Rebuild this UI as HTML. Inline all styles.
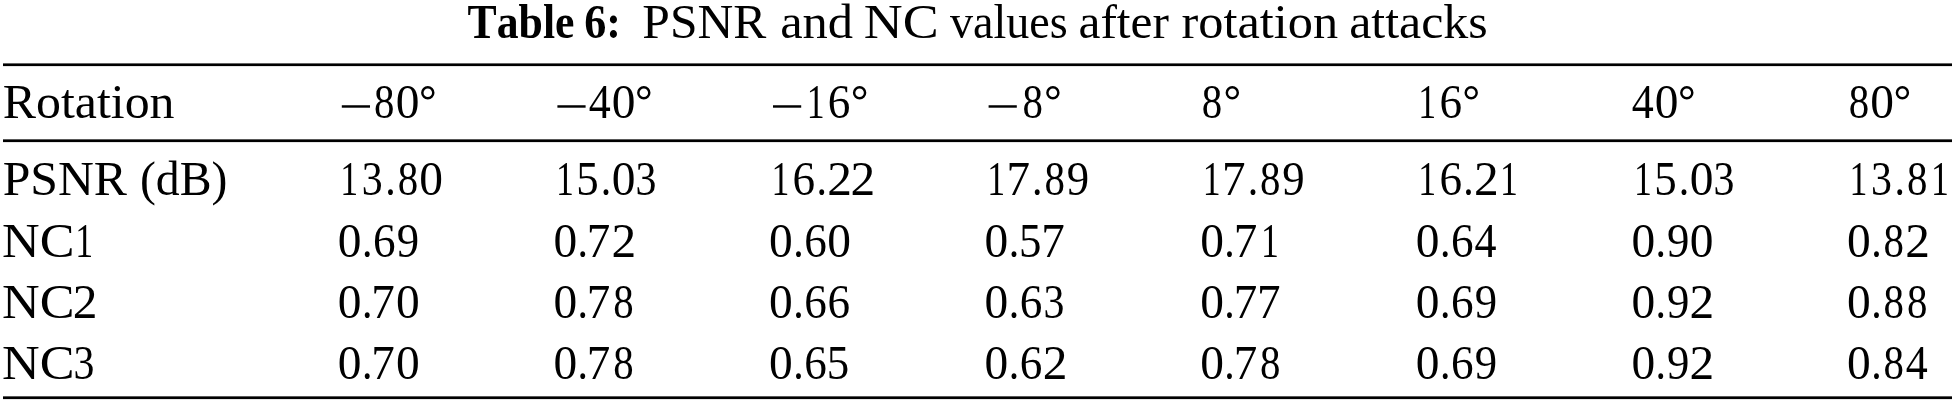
<!DOCTYPE html>
<html><head><meta charset="utf-8"><style>
html,body{margin:0;padding:0;background:#fff;width:1954px;height:404px;overflow:hidden}
svg{display:block;filter:grayscale(1)}
text{font-family:"Liberation Serif",serif;font-size:47.2px;fill:#000;font-kerning:none;font-variant-ligatures:none}
</style></head><body>
<svg width="1954" height="404" viewBox="0 0 1954 404">
<rect x="3" y="63.4" width="1949" height="2.7"/>
<rect x="3" y="139.35" width="1949" height="2.75"/>
<rect x="3" y="396.35" width="1949" height="2.75"/>
<text transform="translate(467.62 37.7) scale(0.9256 1.025)" font-size="47.2" font-weight="bold">Table</text>
<text transform="translate(584.19 37.7) scale(0.9347 1.025)" font-size="47.2" font-weight="bold">6:</text>
<text transform="translate(642.37 37.7) scale(1.0494 1.025)" font-size="47.2" font-weight="normal">PSNR</text>
<text transform="translate(780.13 37.7) scale(1.0696 1.025)" font-size="47.2" font-weight="normal">and</text>
<text transform="translate(863.85 37.7) scale(1.1428 1.025)" font-size="47.2" font-weight="normal">NC</text>
<text transform="translate(949.90 37.7) scale(0.9775 1.025)" font-size="47.2" font-weight="normal">values</text>
<text transform="translate(1078.46 37.7) scale(1.0465 1.025)" font-size="47.2" font-weight="normal">after</text>
<text transform="translate(1181.59 37.7) scale(1.0665 1.025)" font-size="47.2" font-weight="normal">rotation</text>
<text transform="translate(1349.14 37.7) scale(1.0581 1.025)" font-size="47.2" font-weight="normal">attacks</text>
<text transform="translate(2.76 117.6) scale(1.0567 1.025)" font-size="47.2" font-weight="normal">Rotation</text>
<rect x="341.80" y="105.25" width="28.2" height="2.45"/>
<text transform="translate(384.27 117.6) scale(0.8654 1.025)" x="-11.80">8</text>
<text transform="translate(407.55 117.6) scale(1.0055 1.025)" x="-11.80">0</text>
<circle cx="427.80" cy="92.75" r="5.48" fill="none" stroke="#000" stroke-width="2.45"/>
<rect x="557.40" y="105.25" width="28.2" height="2.45"/>
<text transform="translate(599.88 117.6) scale(0.9330 1.025)" x="-11.89">4</text>
<text transform="translate(623.55 117.6) scale(1.0055 1.025)" x="-11.80">0</text>
<circle cx="643.80" cy="92.75" r="5.48" fill="none" stroke="#000" stroke-width="2.45"/>
<rect x="773.00" y="105.25" width="28.2" height="2.45"/>
<text transform="translate(816.17 117.6) scale(0.7579 1.025)" x="-12.46">1</text>
<text transform="translate(839.40 117.6) scale(0.9578 1.025)" x="-12.11">6</text>
<circle cx="859.60" cy="92.75" r="5.48" fill="none" stroke="#000" stroke-width="2.45"/>
<rect x="988.60" y="105.25" width="28.2" height="2.45"/>
<text transform="translate(1032.67 117.6) scale(0.8654 1.025)" x="-11.80">8</text>
<circle cx="1052.90" cy="92.75" r="5.48" fill="none" stroke="#000" stroke-width="2.45"/>
<text transform="translate(1212.07 117.6) scale(0.8654 1.025)" x="-11.80">8</text>
<circle cx="1232.30" cy="92.75" r="5.48" fill="none" stroke="#000" stroke-width="2.45"/>
<text transform="translate(1427.77 117.6) scale(0.7579 1.025)" x="-12.46">1</text>
<text transform="translate(1451.00 117.6) scale(0.9578 1.025)" x="-12.11">6</text>
<circle cx="1471.20" cy="92.75" r="5.48" fill="none" stroke="#000" stroke-width="2.45"/>
<text transform="translate(1642.88 117.6) scale(0.9330 1.025)" x="-11.89">4</text>
<text transform="translate(1666.55 117.6) scale(1.0055 1.025)" x="-11.80">0</text>
<circle cx="1686.80" cy="92.75" r="5.48" fill="none" stroke="#000" stroke-width="2.45"/>
<text transform="translate(1858.87 117.6) scale(0.8654 1.025)" x="-11.80">8</text>
<text transform="translate(1882.15 117.6) scale(1.0055 1.025)" x="-11.80">0</text>
<circle cx="1902.40" cy="92.75" r="5.48" fill="none" stroke="#000" stroke-width="2.45"/>
<text transform="translate(2.67 194.6) scale(1.0528 1.025)" font-size="47.2" font-weight="normal">PSNR</text>
<text transform="translate(139.90 194.6) scale(1.0113 1.025)" font-size="47.2" font-weight="normal">(dB)</text>
<text transform="translate(349.77 194.6) scale(0.7579 1.025)" x="-12.46">1</text>
<text transform="translate(372.34 194.6) scale(0.8856 1.025)" x="-12.01">3</text>
<text transform="translate(390.45 194.6) scale(0.8857 1.025)" x="-5.90">.</text>
<text transform="translate(407.92 194.6) scale(0.8654 1.025)" x="-11.80">8</text>
<text transform="translate(431.20 194.6) scale(1.0055 1.025)" x="-11.80">0</text>
<text transform="translate(565.37 194.6) scale(0.7579 1.025)" x="-12.46">1</text>
<text transform="translate(587.85 194.6) scale(0.9503 1.025)" x="-12.25">5</text>
<text transform="translate(606.05 194.6) scale(0.8857 1.025)" x="-5.90">.</text>
<text transform="translate(623.50 194.6) scale(1.0055 1.025)" x="-11.80">0</text>
<text transform="translate(646.19 194.6) scale(0.8856 1.025)" x="-12.01">3</text>
<text transform="translate(780.97 194.6) scale(0.7579 1.025)" x="-12.46">1</text>
<text transform="translate(804.20 194.6) scale(0.9578 1.025)" x="-12.11">6</text>
<text transform="translate(821.65 194.6) scale(0.8857 1.025)" x="-5.90">.</text>
<text transform="translate(839.22 194.6) scale(1.0466 1.025)" x="-11.53">2</text>
<text transform="translate(862.52 194.6) scale(1.0466 1.025)" x="-11.53">2</text>
<text transform="translate(996.57 194.6) scale(0.7579 1.025)" x="-12.46">1</text>
<text transform="translate(1019.03 194.6) scale(0.9981 1.025)" x="-12.68">7</text>
<text transform="translate(1037.25 194.6) scale(0.8857 1.025)" x="-5.90">.</text>
<text transform="translate(1054.72 194.6) scale(0.8654 1.025)" x="-11.80">8</text>
<text transform="translate(1077.74 194.6) scale(0.9478 1.025)" x="-11.59">9</text>
<text transform="translate(1212.17 194.6) scale(0.7579 1.025)" x="-12.46">1</text>
<text transform="translate(1234.63 194.6) scale(0.9981 1.025)" x="-12.68">7</text>
<text transform="translate(1252.85 194.6) scale(0.8857 1.025)" x="-5.90">.</text>
<text transform="translate(1270.32 194.6) scale(0.8654 1.025)" x="-11.80">8</text>
<text transform="translate(1293.34 194.6) scale(0.9478 1.025)" x="-11.59">9</text>
<text transform="translate(1427.77 194.6) scale(0.7579 1.025)" x="-12.46">1</text>
<text transform="translate(1451.00 194.6) scale(0.9578 1.025)" x="-12.11">6</text>
<text transform="translate(1468.45 194.6) scale(0.8857 1.025)" x="-5.90">.</text>
<text transform="translate(1486.02 194.6) scale(1.0466 1.025)" x="-11.53">2</text>
<text transform="translate(1509.32 194.6) scale(0.7579 1.025)" x="-12.46">1</text>
<text transform="translate(1643.37 194.6) scale(0.7579 1.025)" x="-12.46">1</text>
<text transform="translate(1665.85 194.6) scale(0.9503 1.025)" x="-12.25">5</text>
<text transform="translate(1684.05 194.6) scale(0.8857 1.025)" x="-5.90">.</text>
<text transform="translate(1701.50 194.6) scale(1.0055 1.025)" x="-11.80">0</text>
<text transform="translate(1724.19 194.6) scale(0.8856 1.025)" x="-12.01">3</text>
<text transform="translate(1858.97 194.6) scale(0.7579 1.025)" x="-12.46">1</text>
<text transform="translate(1881.54 194.6) scale(0.8856 1.025)" x="-12.01">3</text>
<text transform="translate(1899.65 194.6) scale(0.8857 1.025)" x="-5.90">.</text>
<text transform="translate(1917.12 194.6) scale(0.8654 1.025)" x="-11.80">8</text>
<text transform="translate(1940.52 194.6) scale(0.7579 1.025)" x="-12.46">1</text>
<text transform="translate(2.10 256.6) scale(1.1054 1.025)" font-size="47.2" font-weight="normal">NC</text>
<text transform="translate(84.77 256.6) scale(0.7579 1.025)" x="-12.46">1</text>
<text transform="translate(349.65 256.6) scale(1.0055 1.025)" x="-11.80">0</text>
<text transform="translate(367.15 256.6) scale(0.8857 1.025)" x="-5.90">.</text>
<text transform="translate(384.65 256.6) scale(0.9578 1.025)" x="-12.11">6</text>
<text transform="translate(407.64 256.6) scale(0.9478 1.025)" x="-11.59">9</text>
<text transform="translate(565.25 256.6) scale(1.0055 1.025)" x="-11.80">0</text>
<text transform="translate(582.75 256.6) scale(0.8857 1.025)" x="-5.90">.</text>
<text transform="translate(599.48 256.6) scale(0.9981 1.025)" x="-12.68">7</text>
<text transform="translate(623.62 256.6) scale(1.0466 1.025)" x="-11.53">2</text>
<text transform="translate(780.85 256.6) scale(1.0055 1.025)" x="-11.80">0</text>
<text transform="translate(798.35 256.6) scale(0.8857 1.025)" x="-5.90">.</text>
<text transform="translate(815.85 256.6) scale(0.9578 1.025)" x="-12.11">6</text>
<text transform="translate(839.10 256.6) scale(1.0055 1.025)" x="-11.80">0</text>
<text transform="translate(996.45 256.6) scale(1.0055 1.025)" x="-11.80">0</text>
<text transform="translate(1013.95 256.6) scale(0.8857 1.025)" x="-5.90">.</text>
<text transform="translate(1030.70 256.6) scale(0.9503 1.025)" x="-12.25">5</text>
<text transform="translate(1053.98 256.6) scale(0.9981 1.025)" x="-12.68">7</text>
<text transform="translate(1212.05 256.6) scale(1.0055 1.025)" x="-11.80">0</text>
<text transform="translate(1229.55 256.6) scale(0.8857 1.025)" x="-5.90">.</text>
<text transform="translate(1246.28 256.6) scale(0.9981 1.025)" x="-12.68">7</text>
<text transform="translate(1270.42 256.6) scale(0.7579 1.025)" x="-12.46">1</text>
<text transform="translate(1427.65 256.6) scale(1.0055 1.025)" x="-11.80">0</text>
<text transform="translate(1445.15 256.6) scale(0.8857 1.025)" x="-5.90">.</text>
<text transform="translate(1462.65 256.6) scale(0.9578 1.025)" x="-12.11">6</text>
<text transform="translate(1485.53 256.6) scale(0.9330 1.025)" x="-11.89">4</text>
<text transform="translate(1643.25 256.6) scale(1.0055 1.025)" x="-11.80">0</text>
<text transform="translate(1660.75 256.6) scale(0.8857 1.025)" x="-5.90">.</text>
<text transform="translate(1677.94 256.6) scale(0.9478 1.025)" x="-11.59">9</text>
<text transform="translate(1701.50 256.6) scale(1.0055 1.025)" x="-11.80">0</text>
<text transform="translate(1858.85 256.6) scale(1.0055 1.025)" x="-11.80">0</text>
<text transform="translate(1876.35 256.6) scale(0.8857 1.025)" x="-5.90">.</text>
<text transform="translate(1893.82 256.6) scale(0.8654 1.025)" x="-11.80">8</text>
<text transform="translate(1917.22 256.6) scale(1.0466 1.025)" x="-11.53">2</text>
<text transform="translate(2.10 317.8) scale(1.1054 1.025)" font-size="47.2" font-weight="normal">NC</text>
<text transform="translate(84.77 317.8) scale(1.0466 1.025)" x="-11.53">2</text>
<text transform="translate(349.65 317.8) scale(1.0055 1.025)" x="-11.80">0</text>
<text transform="translate(367.15 317.8) scale(0.8857 1.025)" x="-5.90">.</text>
<text transform="translate(383.88 317.8) scale(0.9981 1.025)" x="-12.68">7</text>
<text transform="translate(407.90 317.8) scale(1.0055 1.025)" x="-11.80">0</text>
<text transform="translate(565.25 317.8) scale(1.0055 1.025)" x="-11.80">0</text>
<text transform="translate(582.75 317.8) scale(0.8857 1.025)" x="-5.90">.</text>
<text transform="translate(599.48 317.8) scale(0.9981 1.025)" x="-12.68">7</text>
<text transform="translate(623.52 317.8) scale(0.8654 1.025)" x="-11.80">8</text>
<text transform="translate(780.85 317.8) scale(1.0055 1.025)" x="-11.80">0</text>
<text transform="translate(798.35 317.8) scale(0.8857 1.025)" x="-5.90">.</text>
<text transform="translate(815.85 317.8) scale(0.9578 1.025)" x="-12.11">6</text>
<text transform="translate(839.15 317.8) scale(0.9578 1.025)" x="-12.11">6</text>
<text transform="translate(996.45 317.8) scale(1.0055 1.025)" x="-11.80">0</text>
<text transform="translate(1013.95 317.8) scale(0.8857 1.025)" x="-5.90">.</text>
<text transform="translate(1031.45 317.8) scale(0.9578 1.025)" x="-12.11">6</text>
<text transform="translate(1054.09 317.8) scale(0.8856 1.025)" x="-12.01">3</text>
<text transform="translate(1212.05 317.8) scale(1.0055 1.025)" x="-11.80">0</text>
<text transform="translate(1229.55 317.8) scale(0.8857 1.025)" x="-5.90">.</text>
<text transform="translate(1246.28 317.8) scale(0.9981 1.025)" x="-12.68">7</text>
<text transform="translate(1269.58 317.8) scale(0.9981 1.025)" x="-12.68">7</text>
<text transform="translate(1427.65 317.8) scale(1.0055 1.025)" x="-11.80">0</text>
<text transform="translate(1445.15 317.8) scale(0.8857 1.025)" x="-5.90">.</text>
<text transform="translate(1462.65 317.8) scale(0.9578 1.025)" x="-12.11">6</text>
<text transform="translate(1485.64 317.8) scale(0.9478 1.025)" x="-11.59">9</text>
<text transform="translate(1643.25 317.8) scale(1.0055 1.025)" x="-11.80">0</text>
<text transform="translate(1660.75 317.8) scale(0.8857 1.025)" x="-5.90">.</text>
<text transform="translate(1677.94 317.8) scale(0.9478 1.025)" x="-11.59">9</text>
<text transform="translate(1701.62 317.8) scale(1.0466 1.025)" x="-11.53">2</text>
<text transform="translate(1858.85 317.8) scale(1.0055 1.025)" x="-11.80">0</text>
<text transform="translate(1876.35 317.8) scale(0.8857 1.025)" x="-5.90">.</text>
<text transform="translate(1893.82 317.8) scale(0.8654 1.025)" x="-11.80">8</text>
<text transform="translate(1917.12 317.8) scale(0.8654 1.025)" x="-11.80">8</text>
<text transform="translate(2.10 378.5) scale(1.1054 1.025)" font-size="47.2" font-weight="normal">NC</text>
<text transform="translate(84.04 378.5) scale(0.8856 1.025)" x="-12.01">3</text>
<text transform="translate(349.65 378.5) scale(1.0055 1.025)" x="-11.80">0</text>
<text transform="translate(367.15 378.5) scale(0.8857 1.025)" x="-5.90">.</text>
<text transform="translate(383.88 378.5) scale(0.9981 1.025)" x="-12.68">7</text>
<text transform="translate(407.90 378.5) scale(1.0055 1.025)" x="-11.80">0</text>
<text transform="translate(565.25 378.5) scale(1.0055 1.025)" x="-11.80">0</text>
<text transform="translate(582.75 378.5) scale(0.8857 1.025)" x="-5.90">.</text>
<text transform="translate(599.48 378.5) scale(0.9981 1.025)" x="-12.68">7</text>
<text transform="translate(623.52 378.5) scale(0.8654 1.025)" x="-11.80">8</text>
<text transform="translate(780.85 378.5) scale(1.0055 1.025)" x="-11.80">0</text>
<text transform="translate(798.35 378.5) scale(0.8857 1.025)" x="-5.90">.</text>
<text transform="translate(815.85 378.5) scale(0.9578 1.025)" x="-12.11">6</text>
<text transform="translate(838.40 378.5) scale(0.9503 1.025)" x="-12.25">5</text>
<text transform="translate(996.45 378.5) scale(1.0055 1.025)" x="-11.80">0</text>
<text transform="translate(1013.95 378.5) scale(0.8857 1.025)" x="-5.90">.</text>
<text transform="translate(1031.45 378.5) scale(0.9578 1.025)" x="-12.11">6</text>
<text transform="translate(1054.82 378.5) scale(1.0466 1.025)" x="-11.53">2</text>
<text transform="translate(1212.05 378.5) scale(1.0055 1.025)" x="-11.80">0</text>
<text transform="translate(1229.55 378.5) scale(0.8857 1.025)" x="-5.90">.</text>
<text transform="translate(1246.28 378.5) scale(0.9981 1.025)" x="-12.68">7</text>
<text transform="translate(1270.32 378.5) scale(0.8654 1.025)" x="-11.80">8</text>
<text transform="translate(1427.65 378.5) scale(1.0055 1.025)" x="-11.80">0</text>
<text transform="translate(1445.15 378.5) scale(0.8857 1.025)" x="-5.90">.</text>
<text transform="translate(1462.65 378.5) scale(0.9578 1.025)" x="-12.11">6</text>
<text transform="translate(1485.64 378.5) scale(0.9478 1.025)" x="-11.59">9</text>
<text transform="translate(1643.25 378.5) scale(1.0055 1.025)" x="-11.80">0</text>
<text transform="translate(1660.75 378.5) scale(0.8857 1.025)" x="-5.90">.</text>
<text transform="translate(1677.94 378.5) scale(0.9478 1.025)" x="-11.59">9</text>
<text transform="translate(1701.62 378.5) scale(1.0466 1.025)" x="-11.53">2</text>
<text transform="translate(1858.85 378.5) scale(1.0055 1.025)" x="-11.80">0</text>
<text transform="translate(1876.35 378.5) scale(0.8857 1.025)" x="-5.90">.</text>
<text transform="translate(1893.82 378.5) scale(0.8654 1.025)" x="-11.80">8</text>
<text transform="translate(1916.73 378.5) scale(0.9330 1.025)" x="-11.89">4</text>
</svg>
</body></html>
